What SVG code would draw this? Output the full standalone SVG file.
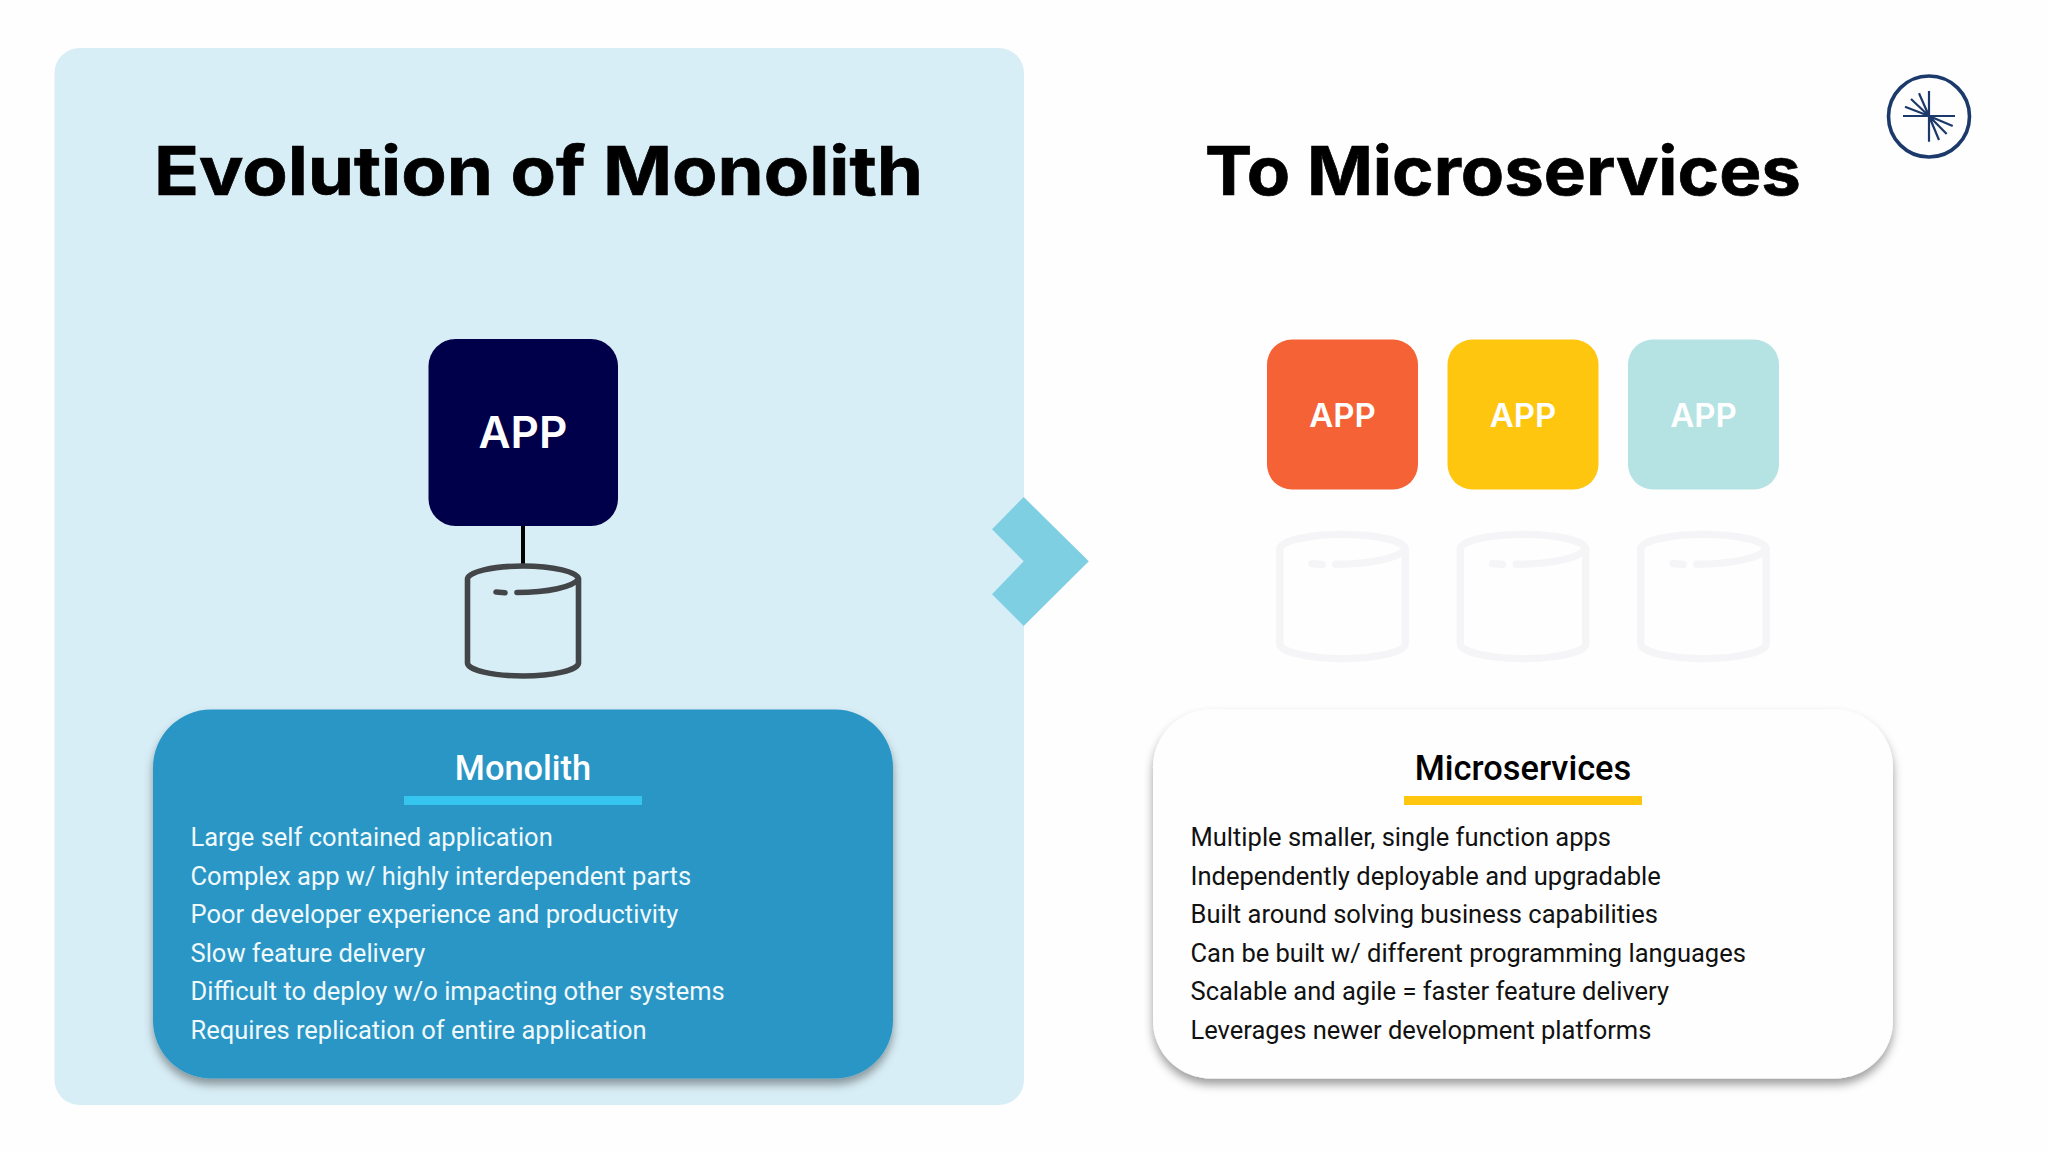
<svg xmlns="http://www.w3.org/2000/svg" xmlns:xlink="http://www.w3.org/1999/xlink" width="2048" height="1152" viewBox="0 0 2048 1152">
<style>
.title{font-family:"Inter","Liberation Sans",sans-serif;font-weight:700;font-size:67px;fill:#000;stroke:#000;stroke-width:.7px}
.app{font-family:"Inter","Liberation Sans",sans-serif;font-weight:600;fill:#fff;text-anchor:middle}
.head{font-family:"Roboto","Liberation Sans",sans-serif;font-weight:500;font-size:34.4px;text-anchor:middle}
.body{font-family:"Roboto","Liberation Sans",sans-serif;font-weight:400;font-size:25.5px}
.cyl{fill:none;stroke-linecap:round;stroke-linejoin:round}
.ray{stroke:#1b3a6b;stroke-width:2.2;fill:none}
</style>
<defs>
<g id="cylinder">
<path d="M-55.5 0C-55.5 -7 -30 -13 0 -13S55.5 -7 55.5 0M55.5 0C50 8 25 13.5 -6 13.5M-27 13L-18 13.7M-55.5 0V84C-55.5 91 -30 97 0 97S55.5 91 55.5 84V0"/>
</g>
<filter id="shadow" x="-5%" y="-5%" width="110%" height="115%">
<feDropShadow dx="0" dy="6" stdDeviation="5" flood-color="#000" flood-opacity="0.38"/>
</filter>
</defs>
<rect width="2048" height="1152" fill="#fefefe"/>
<rect id="left-panel" x="54.5" y="48" width="969.5" height="1057" rx="25" fill="#d8eef6"/>
<text class="title" x="154" y="195" textLength="769" lengthAdjust="spacingAndGlyphs">Evolution of Monolith</text>
<text class="title" x="1205" y="195" textLength="596" lengthAdjust="spacingAndGlyphs">To Microservices</text>
<g id="connectors">
<line x1="523" y1="526" x2="523" y2="564" stroke="#000" stroke-width="4"/>
</g>
<g id="app-monolith">
<rect x="428.5" y="339" width="189.5" height="187" rx="27" fill="#00004a"/>
<text class="app" x="523" y="448" font-size="44">APP</text>
</g>
<g id="db-monolith">
<use href="#cylinder" transform="translate(523 579)" class="cyl" stroke="#434649" stroke-width="5.6"/>
</g>
<polygon id="arrow" points="1023.7,497 1088.8,561.3 1023.7,626 992,594.3 1023.7,561.3 992,529.3" fill="#7fcfe3"/>
<g id="app-1">
<rect x="1267" y="339.5" width="151" height="150" rx="25" fill="#f46236"/>
<text class="app" x="1342.5" y="427" font-size="33">APP</text>
</g>
<g id="app-2">
<rect x="1447.5" y="339.5" width="151" height="150" rx="25" fill="#fec60f"/>
<text class="app" x="1523" y="427" font-size="33">APP</text>
</g>
<g id="app-3">
<rect x="1628" y="339.5" width="151" height="150" rx="25" fill="#b5e3e3"/>
<text class="app" x="1703.5" y="427" font-size="33">APP</text>
</g>
<g id="db-1"><use href="#cylinder" transform="translate(1342.5 549) scale(1.13)" class="cyl" stroke="#f5f5f7" stroke-width="6.5"/></g>
<g id="db-2"><use href="#cylinder" transform="translate(1523 549) scale(1.13)" class="cyl" stroke="#f5f5f7" stroke-width="6.5"/></g>
<g id="db-3"><use href="#cylinder" transform="translate(1703.5 549) scale(1.13)" class="cyl" stroke="#f5f5f7" stroke-width="6.5"/></g>
<g id="monolith-card">
<rect x="153" y="709.5" width="740" height="369" rx="58" fill="#2a96c5" filter="url(#shadow)"/>
<text class="head" x="523" y="780" fill="#fff">Monolith</text>
<rect x="404" y="796" width="238" height="9" fill="#36c5ee"/>
<g class="body" fill="#f0f9fc">
<text x="190.5" y="846">Large self contained application</text>
<text x="190.5" y="884.5">Complex app w/ highly interdependent parts</text>
<text x="190.5" y="923">Poor developer experience and productivity</text>
<text x="190.5" y="961.5">Slow feature delivery</text>
<text x="190.5" y="1000">Difficult to deploy w/o impacting other systems</text>
<text x="190.5" y="1038.5">Requires replication of entire application</text>
</g>
</g>
<g id="microservices-card">
<rect x="1153" y="709.5" width="740" height="369" rx="58" fill="#fefefe" filter="url(#shadow)"/>
<text class="head" x="1523" y="780" fill="#000">Microservices</text>
<rect x="1404" y="796" width="238" height="9" fill="#fec60f"/>
<g class="body" fill="#111">
<text x="1190.5" y="846">Multiple smaller, single function apps</text>
<text x="1190.5" y="884.5">Independently deployable and upgradable</text>
<text x="1190.5" y="923">Built around solving business capabilities</text>
<text x="1190.5" y="961.5">Can be built w/ different programming languages</text>
<text x="1190.5" y="1000">Scalable and agile = faster feature delivery</text>
<text x="1190.5" y="1038.5">Leverages newer development platforms</text>
</g>
</g>
<g id="logo">
<circle cx="1929" cy="116.5" r="40.5" fill="none" stroke="#1b3a6b" stroke-width="3.6"/>
<path class="ray" d="M1929 91V141.7M1903 116H1955M1905 106.7L1929 116M1911 99L1929 116M1919 93.3L1929 116M1952.7 126L1929 116M1946.7 134L1929 116M1939 140L1929 116"/>
</g>
</svg>
